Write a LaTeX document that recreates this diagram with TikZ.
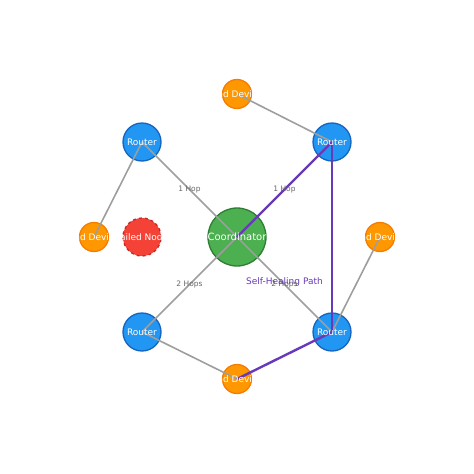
\documentclass[tikz,border=0pt]{standalone}
\usepackage{fontspec}
\setmainfont{DejaVu Sans}
\usetikzlibrary{positioning, calc}

\definecolor{coordgreen}{HTML}{4CAF50}
\definecolor{coordedge}{HTML}{2E7D32}
\definecolor{routerblue}{HTML}{2196F3}
\definecolor{routeredge}{HTML}{1565C0}
\definecolor{devorange}{HTML}{FF9800}
\definecolor{devedge}{HTML}{F57C00}
\definecolor{failred}{HTML}{F44336}
\definecolor{failedge}{HTML}{C62828}
\definecolor{healpurple}{HTML}{673AB7}
\definecolor{linkgray}{HTML}{9E9E9E}

\tikzset{
    coordnode/.style={circle, fill=coordgreen, draw=coordedge, line width=1.3pt, minimum size=58pt, inner sep=0pt},
    routernode/.style={circle, fill=routerblue, draw=routeredge, line width=1.3pt, minimum size=38pt, inner sep=0pt},
    devnode/.style={circle, fill=devorange, draw=devedge, line width=1.3pt, minimum size=29pt, inner sep=0pt},
    failnode/.style={circle, fill=failred, draw=failedge, dashed, line width=1.3pt, minimum size=38pt, inner sep=0pt},
    link/.style={linkgray, line width=1.6pt},
    healing/.style={healpurple, line width=2.4pt},
    nodetext/.style={text=white, font=\fontsize{9}{9}\selectfont},
    hoplabel/.style={text=gray!80!black, font=\fontsize{7.5}{7.5}\selectfont}
}

\begin{document}
\begin{tikzpicture}[x=1pt, y=-1pt]
    \useasboundingbox (0, 0) rectangle (474, 474);

    % nodes
    \node[coordnode] (coord) at (237, 237) {};
    \node[routernode] (rtl) at (142, 142) {};
    \node[routernode] (rtr) at (332, 142) {};
    \node[routernode] (rbl) at (142, 332) {};
    \node[routernode] (rbr) at (332, 332) {};
    \node[devnode] (dtop) at (237, 94) {};
    \node[devnode] (dleft) at (94, 237) {};
    \node[devnode] (dright) at (380, 237) {};
    \node[devnode] (dbot) at (237, 379) {};
    \node[failnode] (failed) at (142, 237) {};

    % links
    \draw[link] (coord.center) -- node[hoplabel] {1 Hop} (rtl.center);
    \draw[link] (coord.center) -- node[hoplabel] {2 Hops} (rbl.center);
    \draw[link] (coord.center) -- node[hoplabel] {2 Hops} (rbr.center);
    \draw[link] (dtop.center) -- (rtr.center);
    \draw[link] (rtl.center) -- (dleft.center);
    \draw[link] (dright.center) -- (rbr.center);
    \draw[link] (rbl.center) -- (dbot.center);

    % self-healing route
    \draw[healing] (coord.center) -- node[hoplabel] {1 Hop} (rtr.center);
    \draw[healing] (rtr.center) -- (rbr.center);
    \draw[healing] (rbr.center) -- (dbot.center);
    \node[text=healpurple, font=\fontsize{9}{9}\selectfont] (heallabel) at ($(coord)!0.5!(rbr) + (0, -2)$) {Self-Healing Path};

    % names
    \node[nodetext, font=\fontsize{10}{10}\selectfont] at (coord) {Coordinator};
    \foreach \r in {rtl, rtr, rbl, rbr}
        \node[nodetext] at (\r) {Router};
    \foreach \d in {dtop, dleft, dright, dbot}
        \node[nodetext] at (\d) {End Device};
    \node[nodetext] at (failed) {Failed Node};
\end{tikzpicture}
\end{document}
